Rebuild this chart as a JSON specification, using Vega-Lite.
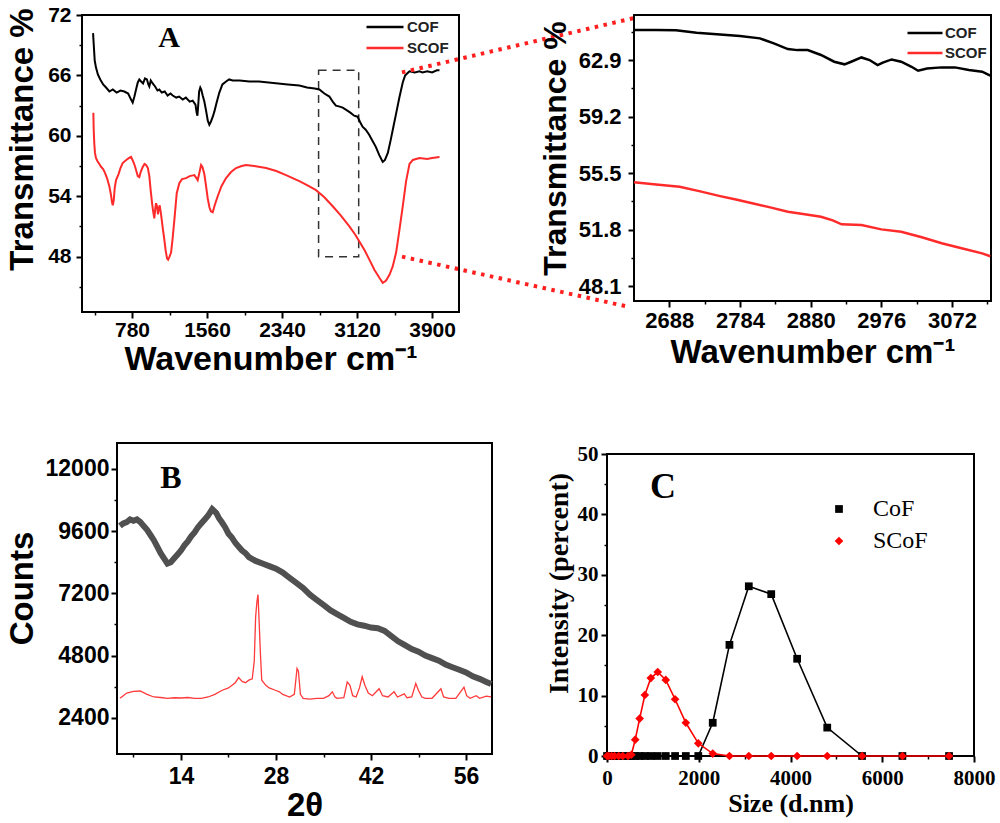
{
  "$schema": "https://vega.github.io/schema/vega-lite/v6.json",
  "background": "white",
  "padding": {"left": 5, "top": 3, "right": 0, "bottom": 0},
  "config": {
    "view": {"stroke": "#000", "strokeWidth": 2},
    "axis": {
      "domain": false, "grid": false,
      "tickColor": "#000", "tickWidth": 2, "tickSize": 6,
      "labelColor": "#000", "titleColor": "#000",
      "labelFlush": false, "labelOverlap": false,
      "labelFont": "Liberation Sans", "titleFont": "Liberation Sans",
      "labelFontWeight": "bold", "titleFontWeight": "bold"
    },
    "legend": {"padding": 0, "labelColor": "#000", "rowPadding": 0}
  },
  "datasets": {
    "ftir": [
      {"s":"COF","wn":375,"t":70.2},{"s":"COF","wn":385,"t":68.6},{"s":"COF","wn":392,"t":67.5},{"s":"COF","wn":405,"t":66.8},
      {"s":"COF","wn":425,"t":66.1},{"s":"COF","wn":450,"t":65.6},{"s":"COF","wn":480,"t":65.1},{"s":"COF","wn":510,"t":64.8},
      {"s":"COF","wn":545,"t":64.4},{"s":"COF","wn":580,"t":64.6},{"s":"COF","wn":620,"t":64.3},{"s":"COF","wn":660,"t":64.5},
      {"s":"COF","wn":700,"t":64.4},{"s":"COF","wn":740,"t":64.2},{"s":"COF","wn":770,"t":63.6},{"s":"COF","wn":787,"t":63.3},
      {"s":"COF","wn":805,"t":63.9},{"s":"COF","wn":822,"t":64.6},{"s":"COF","wn":840,"t":65.3},{"s":"COF","wn":856,"t":65.6},
      {"s":"COF","wn":875,"t":65.4},{"s":"COF","wn":895,"t":65.2},{"s":"COF","wn":915,"t":65.7},{"s":"COF","wn":935,"t":65.6},
      {"s":"COF","wn":950,"t":65.1},{"s":"COF","wn":960,"t":64.9},{"s":"COF","wn":975,"t":65.5},{"s":"COF","wn":995,"t":65.2},
      {"s":"COF","wn":1020,"t":64.9},{"s":"COF","wn":1045,"t":64.5},{"s":"COF","wn":1064,"t":64.6},{"s":"COF","wn":1090,"t":64.3},
      {"s":"COF","wn":1120,"t":64.4},{"s":"COF","wn":1150,"t":64.0},{"s":"COF","wn":1180,"t":64.2},{"s":"COF","wn":1203,"t":64.0},
      {"s":"COF","wn":1240,"t":63.8},{"s":"COF","wn":1270,"t":63.9},{"s":"COF","wn":1307,"t":63.6},{"s":"COF","wn":1340,"t":63.8},
      {"s":"COF","wn":1380,"t":63.4},{"s":"COF","wn":1411,"t":63.5},{"s":"COF","wn":1440,"t":63.1},{"s":"COF","wn":1452,"t":62.3},
      {"s":"COF","wn":1460,"t":62.0},{"s":"COF","wn":1468,"t":63.0},{"s":"COF","wn":1478,"t":64.4},{"s":"COF","wn":1490,"t":64.8},
      {"s":"COF","wn":1500,"t":64.6},{"s":"COF","wn":1515,"t":64.0},{"s":"COF","wn":1532,"t":63.4},{"s":"COF","wn":1550,"t":62.5},
      {"s":"COF","wn":1568,"t":61.5},{"s":"COF","wn":1584,"t":61.1},{"s":"COF","wn":1600,"t":61.4},{"s":"COF","wn":1620,"t":61.9},
      {"s":"COF","wn":1636,"t":62.4},{"s":"COF","wn":1660,"t":63.3},{"s":"COF","wn":1688,"t":64.3},{"s":"COF","wn":1720,"t":65.1},
      {"s":"COF","wn":1758,"t":65.4},{"s":"COF","wn":1790,"t":65.6},{"s":"COF","wn":1827,"t":65.5},{"s":"COF","wn":1900,"t":65.5},
      {"s":"COF","wn":2000,"t":65.4},{"s":"COF","wn":2100,"t":65.4},{"s":"COF","wn":2200,"t":65.3},{"s":"COF","wn":2300,"t":65.2},
      {"s":"COF","wn":2400,"t":65.1},{"s":"COF","wn":2520,"t":65.0},{"s":"COF","wn":2600,"t":64.8},{"s":"COF","wn":2680,"t":64.7},
      {"s":"COF","wn":2728,"t":64.6},{"s":"COF","wn":2780,"t":64.2},{"s":"COF","wn":2832,"t":63.9},{"s":"COF","wn":2867,"t":63.4},
      {"s":"COF","wn":2900,"t":63.0},{"s":"COF","wn":2940,"t":62.9},{"s":"COF","wn":2971,"t":62.8},{"s":"COF","wn":3003,"t":62.6},
      {"s":"COF","wn":3050,"t":62.3},{"s":"COF","wn":3090,"t":62.0},{"s":"COF","wn":3125,"t":61.9},{"s":"COF","wn":3150,"t":61.4},
      {"s":"COF","wn":3177,"t":60.9},{"s":"COF","wn":3210,"t":60.6},{"s":"COF","wn":3246,"t":60.1},{"s":"COF","wn":3280,"t":59.5},
      {"s":"COF","wn":3315,"t":58.9},{"s":"COF","wn":3350,"t":58.1},{"s":"COF","wn":3387,"t":57.4},{"s":"COF","wn":3410,"t":57.6},
      {"s":"COF","wn":3440,"t":58.3},{"s":"COF","wn":3470,"t":59.6},{"s":"COF","wn":3500,"t":61.0},{"s":"COF","wn":3526,"t":62.2},
      {"s":"COF","wn":3560,"t":63.8},{"s":"COF","wn":3595,"t":65.3},{"s":"COF","wn":3620,"t":66.0},{"s":"COF","wn":3665,"t":66.4},
      {"s":"COF","wn":3720,"t":66.3},{"s":"COF","wn":3769,"t":66.4},{"s":"COF","wn":3800,"t":66.3},{"s":"COF","wn":3850,"t":66.4},
      {"s":"COF","wn":3900,"t":66.3},{"s":"COF","wn":3950,"t":66.5},{"s":"COF","wn":3977,"t":66.5},
      {"s":"SCOF","wn":378,"t":62.3},{"s":"SCOF","wn":382,"t":60.5},{"s":"SCOF","wn":388,"t":59.2},{"s":"SCOF","wn":395,"t":58.3},
      {"s":"SCOF","wn":405,"t":57.8},{"s":"SCOF","wn":420,"t":57.5},{"s":"SCOF","wn":440,"t":57.2},{"s":"SCOF","wn":460,"t":56.9},
      {"s":"SCOF","wn":480,"t":56.7},{"s":"SCOF","wn":500,"t":56.3},{"s":"SCOF","wn":520,"t":55.8},{"s":"SCOF","wn":544,"t":55.0},
      {"s":"SCOF","wn":560,"t":54.2},{"s":"SCOF","wn":572,"t":53.4},{"s":"SCOF","wn":580,"t":53.1},{"s":"SCOF","wn":590,"t":53.6},
      {"s":"SCOF","wn":600,"t":54.8},{"s":"SCOF","wn":614,"t":55.6},{"s":"SCOF","wn":640,"t":56.2},{"s":"SCOF","wn":660,"t":56.8},
      {"s":"SCOF","wn":683,"t":57.3},{"s":"SCOF","wn":720,"t":57.6},{"s":"SCOF","wn":750,"t":57.8},{"s":"SCOF","wn":770,"t":57.9},
      {"s":"SCOF","wn":790,"t":57.5},{"s":"SCOF","wn":810,"t":57.0},{"s":"SCOF","wn":822,"t":56.6},{"s":"SCOF","wn":840,"t":56.0},
      {"s":"SCOF","wn":856,"t":55.9},{"s":"SCOF","wn":870,"t":56.4},{"s":"SCOF","wn":891,"t":56.9},{"s":"SCOF","wn":910,"t":57.2},
      {"s":"SCOF","wn":926,"t":57.1},{"s":"SCOF","wn":945,"t":56.8},{"s":"SCOF","wn":960,"t":56.0},{"s":"SCOF","wn":975,"t":54.5},
      {"s":"SCOF","wn":990,"t":53.2},{"s":"SCOF","wn":1000,"t":52.5},{"s":"SCOF","wn":1012,"t":51.8},{"s":"SCOF","wn":1022,"t":52.8},
      {"s":"SCOF","wn":1030,"t":53.3},{"s":"SCOF","wn":1040,"t":53.0},{"s":"SCOF","wn":1050,"t":52.2},{"s":"SCOF","wn":1057,"t":52.7},
      {"s":"SCOF","wn":1068,"t":53.1},{"s":"SCOF","wn":1082,"t":52.2},{"s":"SCOF","wn":1100,"t":50.8},{"s":"SCOF","wn":1116,"t":49.7},
      {"s":"SCOF","wn":1130,"t":48.6},{"s":"SCOF","wn":1145,"t":47.8},{"s":"SCOF","wn":1155,"t":47.7},{"s":"SCOF","wn":1170,"t":48.0},
      {"s":"SCOF","wn":1186,"t":48.4},{"s":"SCOF","wn":1200,"t":49.6},{"s":"SCOF","wn":1220,"t":51.6},{"s":"SCOF","wn":1245,"t":54.3},
      {"s":"SCOF","wn":1272,"t":55.3},{"s":"SCOF","wn":1300,"t":55.7},{"s":"SCOF","wn":1342,"t":55.8},{"s":"SCOF","wn":1380,"t":56.0},
      {"s":"SCOF","wn":1428,"t":56.1},{"s":"SCOF","wn":1450,"t":55.8},{"s":"SCOF","wn":1463,"t":55.6},{"s":"SCOF","wn":1480,"t":56.3},
      {"s":"SCOF","wn":1498,"t":57.1},{"s":"SCOF","wn":1512,"t":56.9},{"s":"SCOF","wn":1532,"t":56.2},{"s":"SCOF","wn":1550,"t":55.0},
      {"s":"SCOF","wn":1567,"t":53.8},{"s":"SCOF","wn":1585,"t":52.9},{"s":"SCOF","wn":1600,"t":52.5},{"s":"SCOF","wn":1619,"t":52.4},
      {"s":"SCOF","wn":1640,"t":53.1},{"s":"SCOF","wn":1671,"t":54.0},{"s":"SCOF","wn":1710,"t":55.0},{"s":"SCOF","wn":1758,"t":55.8},
      {"s":"SCOF","wn":1810,"t":56.4},{"s":"SCOF","wn":1862,"t":56.8},{"s":"SCOF","wn":1920,"t":57.0},{"s":"SCOF","wn":1966,"t":57.1},
      {"s":"SCOF","wn":2050,"t":57.0},{"s":"SCOF","wn":2174,"t":56.8},{"s":"SCOF","wn":2280,"t":56.5},{"s":"SCOF","wn":2382,"t":56.1},
      {"s":"SCOF","wn":2450,"t":55.8},{"s":"SCOF","wn":2520,"t":55.5},{"s":"SCOF","wn":2600,"t":55.1},{"s":"SCOF","wn":2694,"t":54.6},
      {"s":"SCOF","wn":2780,"t":53.9},{"s":"SCOF","wn":2867,"t":53.0},{"s":"SCOF","wn":2950,"t":52.1},{"s":"SCOF","wn":3040,"t":51.0},
      {"s":"SCOF","wn":3100,"t":50.2},{"s":"SCOF","wn":3144,"t":49.5},{"s":"SCOF","wn":3200,"t":48.6},{"s":"SCOF","wn":3248,"t":47.7},
      {"s":"SCOF","wn":3300,"t":46.7},{"s":"SCOF","wn":3352,"t":45.9},{"s":"SCOF","wn":3387,"t":45.4},{"s":"SCOF","wn":3420,"t":45.6},
      {"s":"SCOF","wn":3457,"t":46.2},{"s":"SCOF","wn":3490,"t":47.0},{"s":"SCOF","wn":3526,"t":48.4},{"s":"SCOF","wn":3560,"t":50.6},
      {"s":"SCOF","wn":3595,"t":53.0},{"s":"SCOF","wn":3630,"t":55.5},{"s":"SCOF","wn":3665,"t":57.2},{"s":"SCOF","wn":3700,"t":57.6},
      {"s":"SCOF","wn":3769,"t":57.8},{"s":"SCOF","wn":3850,"t":57.7},{"s":"SCOF","wn":3900,"t":57.8},{"s":"SCOF","wn":3977,"t":57.9}
    ],
    "zoomRegion": [{"wn": 2720, "wn2": 3137, "t": 48.0, "t2": 66.5}],
    "links": [
      {"link": "upper", "wn": 3587, "t": 66.3}, {"link": "upper", "wn": 6000, "t": 71.7},
      {"link": "lower", "wn": 3587, "t": 48.0}, {"link": "lower", "wn": 5950, "t": 43.0}
    ],
    "ftirZoom": [
      {"s":"COF","wn":2640,"t":64.86},{"s":"COF","wn":2670,"t":64.86},{"s":"COF","wn":2697,"t":64.85},{"s":"COF","wn":2725,"t":64.69},
      {"s":"COF","wn":2757,"t":64.58},{"s":"COF","wn":2784,"t":64.47},{"s":"COF","wn":2811,"t":64.32},{"s":"COF","wn":2830,"t":63.99},
      {"s":"COF","wn":2849,"t":63.62},{"s":"COF","wn":2862,"t":63.55},{"s":"COF","wn":2876,"t":63.55},{"s":"COF","wn":2894,"t":63.23},
      {"s":"COF","wn":2912,"t":62.79},{"s":"COF","wn":2926,"t":62.62},{"s":"COF","wn":2935,"t":62.79},{"s":"COF","wn":2949,"t":63.07},
      {"s":"COF","wn":2960,"t":62.9},{"s":"COF","wn":2971,"t":62.57},{"s":"COF","wn":2978,"t":62.73},{"s":"COF","wn":2990,"t":62.94},
      {"s":"COF","wn":3003,"t":62.79},{"s":"COF","wn":3017,"t":62.46},{"s":"COF","wn":3026,"t":62.2},{"s":"COF","wn":3038,"t":62.35},
      {"s":"COF","wn":3058,"t":62.42},{"s":"COF","wn":3076,"t":62.42},{"s":"COF","wn":3095,"t":62.25},{"s":"COF","wn":3113,"t":62.14},
      {"s":"COF","wn":3124,"t":61.88},
      {"s":"SCOF","wn":2640,"t":54.89},{"s":"SCOF","wn":2670,"t":54.75},{"s":"SCOF","wn":2702,"t":54.6},{"s":"SCOF","wn":2730,"t":54.3},
      {"s":"SCOF","wn":2757,"t":53.99},{"s":"SCOF","wn":2780,"t":53.75},{"s":"SCOF","wn":2802,"t":53.51},{"s":"SCOF","wn":2825,"t":53.25},
      {"s":"SCOF","wn":2849,"t":52.97},{"s":"SCOF","wn":2872,"t":52.8},{"s":"SCOF","wn":2894,"t":52.64},{"s":"SCOF","wn":2910,"t":52.4},
      {"s":"SCOF","wn":2922,"t":52.14},{"s":"SCOF","wn":2949,"t":52.09},{"s":"SCOF","wn":2976,"t":51.81},{"s":"SCOF","wn":3003,"t":51.66},
      {"s":"SCOF","wn":3031,"t":51.29},{"s":"SCOF","wn":3058,"t":50.9},{"s":"SCOF","wn":3085,"t":50.57},{"s":"SCOF","wn":3113,"t":50.24},
      {"s":"SCOF","wn":3124,"t":50.05}
    ],
    "xrd": [
      {"s":"COF","tt":5,"c":9800},{"s":"COF","tt":5.5,"c":9900},{"s":"COF","tt":6,"c":9950},{"s":"COF","tt":6.5,"c":10050},
      {"s":"COF","tt":7,"c":10000},{"s":"COF","tt":7.5,"c":10050},{"s":"COF","tt":8,"c":9950},{"s":"COF","tt":8.5,"c":9800},
      {"s":"COF","tt":9,"c":9650},{"s":"COF","tt":9.5,"c":9450},{"s":"COF","tt":10,"c":9250},{"s":"COF","tt":10.5,"c":9000},
      {"s":"COF","tt":11,"c":8750},{"s":"COF","tt":11.5,"c":8550},{"s":"COF","tt":12,"c":8350},{"s":"COF","tt":12.5,"c":8400},
      {"s":"COF","tt":13,"c":8550},{"s":"COF","tt":13.5,"c":8700},{"s":"COF","tt":14,"c":8850},{"s":"COF","tt":14.5,"c":9050},
      {"s":"COF","tt":15,"c":9200},{"s":"COF","tt":15.5,"c":9400},{"s":"COF","tt":16,"c":9550},{"s":"COF","tt":16.5,"c":9750},
      {"s":"COF","tt":17,"c":9900},{"s":"COF","tt":17.5,"c":10050},{"s":"COF","tt":18,"c":10200},{"s":"COF","tt":18.6,"c":10450},
      {"s":"COF","tt":19.2,"c":10300},{"s":"COF","tt":19.6,"c":10100},{"s":"COF","tt":20,"c":9950},{"s":"COF","tt":20.5,"c":9750},
      {"s":"COF","tt":21,"c":9500},{"s":"COF","tt":21.5,"c":9350},{"s":"COF","tt":22,"c":9150},{"s":"COF","tt":22.5,"c":9000},
      {"s":"COF","tt":23,"c":8850},{"s":"COF","tt":23.5,"c":8750},{"s":"COF","tt":24,"c":8600},{"s":"COF","tt":25,"c":8450},
      {"s":"COF","tt":26,"c":8350},{"s":"COF","tt":27,"c":8250},{"s":"COF","tt":28,"c":8150},{"s":"COF","tt":29,"c":8000},
      {"s":"COF","tt":30,"c":7800},{"s":"COF","tt":31,"c":7600},{"s":"COF","tt":32,"c":7400},{"s":"COF","tt":33,"c":7150},
      {"s":"COF","tt":34,"c":6950},{"s":"COF","tt":35,"c":6750},{"s":"COF","tt":36,"c":6550},{"s":"COF","tt":37,"c":6400},
      {"s":"COF","tt":38,"c":6250},{"s":"COF","tt":39,"c":6100},{"s":"COF","tt":40,"c":6000},{"s":"COF","tt":41,"c":5950},
      {"s":"COF","tt":42,"c":5880},{"s":"COF","tt":43,"c":5850},{"s":"COF","tt":44,"c":5750},{"s":"COF","tt":45,"c":5550},
      {"s":"COF","tt":46,"c":5350},{"s":"COF","tt":47,"c":5200},{"s":"COF","tt":48,"c":5050},{"s":"COF","tt":49,"c":4950},
      {"s":"COF","tt":50,"c":4800},{"s":"COF","tt":51,"c":4700},{"s":"COF","tt":52,"c":4600},{"s":"COF","tt":53,"c":4450},
      {"s":"COF","tt":54,"c":4350},{"s":"COF","tt":55,"c":4250},{"s":"COF","tt":56,"c":4150},{"s":"COF","tt":57,"c":4000},
      {"s":"COF","tt":58,"c":3900},{"s":"COF","tt":59,"c":3780},{"s":"COF","tt":59.7,"c":3700},
      {"s":"SCOF","tt":5,"c":3150},{"s":"SCOF","tt":5.5,"c":3250},{"s":"SCOF","tt":6,"c":3350},{"s":"SCOF","tt":7,"c":3420},
      {"s":"SCOF","tt":8,"c":3430},{"s":"SCOF","tt":9,"c":3300},{"s":"SCOF","tt":10,"c":3200},{"s":"SCOF","tt":11,"c":3180},
      {"s":"SCOF","tt":12,"c":3150},{"s":"SCOF","tt":13,"c":3170},{"s":"SCOF","tt":14,"c":3160},{"s":"SCOF","tt":15,"c":3180},
      {"s":"SCOF","tt":16,"c":3150},{"s":"SCOF","tt":17,"c":3150},{"s":"SCOF","tt":18,"c":3200},{"s":"SCOF","tt":19,"c":3300},
      {"s":"SCOF","tt":20,"c":3450},{"s":"SCOF","tt":21,"c":3550},{"s":"SCOF","tt":22,"c":3750},{"s":"SCOF","tt":22.5,"c":3950},
      {"s":"SCOF","tt":23,"c":3800},{"s":"SCOF","tt":23.5,"c":3750},{"s":"SCOF","tt":24,"c":3850},{"s":"SCOF","tt":24.5,"c":3900},
      {"s":"SCOF","tt":24.8,"c":4600},{"s":"SCOF","tt":25,"c":6300},{"s":"SCOF","tt":25.2,"c":6900},{"s":"SCOF","tt":25.35,"c":7150},
      {"s":"SCOF","tt":25.5,"c":6200},{"s":"SCOF","tt":25.7,"c":4900},{"s":"SCOF","tt":25.9,"c":3850},{"s":"SCOF","tt":26.5,"c":3650},
      {"s":"SCOF","tt":27,"c":3550},{"s":"SCOF","tt":28,"c":3450},{"s":"SCOF","tt":28.5,"c":3400},{"s":"SCOF","tt":29,"c":3300},
      {"s":"SCOF","tt":30,"c":3200},{"s":"SCOF","tt":30.7,"c":3300},{"s":"SCOF","tt":31.1,"c":4300},{"s":"SCOF","tt":31.3,"c":4200},
      {"s":"SCOF","tt":31.6,"c":3300},{"s":"SCOF","tt":32,"c":3150},{"s":"SCOF","tt":33,"c":3120},{"s":"SCOF","tt":34,"c":3150},
      {"s":"SCOF","tt":35,"c":3150},{"s":"SCOF","tt":35.8,"c":3250},{"s":"SCOF","tt":36.3,"c":3400},{"s":"SCOF","tt":36.7,"c":3200},
      {"s":"SCOF","tt":37,"c":3150},{"s":"SCOF","tt":38,"c":3170},{"s":"SCOF","tt":38.5,"c":3780},{"s":"SCOF","tt":38.9,"c":3650},
      {"s":"SCOF","tt":39.3,"c":3250},{"s":"SCOF","tt":39.8,"c":3200},{"s":"SCOF","tt":40.3,"c":3550},{"s":"SCOF","tt":40.7,"c":3980},
      {"s":"SCOF","tt":41.1,"c":3650},{"s":"SCOF","tt":41.6,"c":3350},{"s":"SCOF","tt":42.2,"c":3250},{"s":"SCOF","tt":43.2,"c":3520},
      {"s":"SCOF","tt":43.7,"c":3250},{"s":"SCOF","tt":44.5,"c":3200},{"s":"SCOF","tt":45.4,"c":3400},{"s":"SCOF","tt":45.9,"c":3200},
      {"s":"SCOF","tt":46.9,"c":3320},{"s":"SCOF","tt":47.3,"c":3170},{"s":"SCOF","tt":48,"c":3200},{"s":"SCOF","tt":48.6,"c":3720},
      {"s":"SCOF","tt":49,"c":3450},{"s":"SCOF","tt":49.5,"c":3200},{"s":"SCOF","tt":50,"c":3150},{"s":"SCOF","tt":51,"c":3150},
      {"s":"SCOF","tt":52.3,"c":3520},{"s":"SCOF","tt":52.7,"c":3200},{"s":"SCOF","tt":53.5,"c":3150},{"s":"SCOF","tt":54.5,"c":3150},
      {"s":"SCOF","tt":55.7,"c":3580},{"s":"SCOF","tt":56.1,"c":3250},{"s":"SCOF","tt":56.6,"c":3150},{"s":"SCOF","tt":57.5,"c":3250},
      {"s":"SCOF","tt":58,"c":3150},{"s":"SCOF","tt":59,"c":3230},{"s":"SCOF","tt":59.7,"c":3200}
    ],
    "dls": [
      {"s":"CoF","d":0.4,"i":0},{"s":"CoF","d":40,"i":0},{"s":"CoF","d":100,"i":0},{"s":"CoF","d":164,"i":0},
      {"s":"CoF","d":255,"i":0},{"s":"CoF","d":342,"i":0},{"s":"CoF","d":459,"i":0},{"s":"CoF","d":531,"i":0},
      {"s":"CoF","d":615,"i":0},{"s":"CoF","d":712,"i":0},{"s":"CoF","d":825,"i":0},{"s":"CoF","d":955,"i":0},
      {"s":"CoF","d":1106,"i":0},{"s":"CoF","d":1281,"i":0},{"s":"CoF","d":1484,"i":0},{"s":"CoF","d":1718,"i":0},
      {"s":"CoF","d":1990,"i":0},{"s":"CoF","d":2305,"i":5.5},{"s":"CoF","d":2669,"i":18.4},{"s":"CoF","d":3091,"i":28.1},
      {"s":"CoF","d":3580,"i":26.8},{"s":"CoF","d":4145,"i":16.1},{"s":"CoF","d":4801,"i":4.7},{"s":"CoF","d":5560,"i":0},
      {"s":"CoF","d":6439,"i":0},{"s":"CoF","d":7456,"i":0},
      {"s":"SCoF","d":0.4,"i":0},{"s":"SCoF","d":40,"i":0},{"s":"SCoF","d":100,"i":0},{"s":"SCoF","d":164,"i":0},
      {"s":"SCoF","d":255,"i":0},{"s":"SCoF","d":342,"i":0},{"s":"SCoF","d":459,"i":0},{"s":"SCoF","d":531,"i":0.2},
      {"s":"SCoF","d":615,"i":2.7},{"s":"SCoF","d":712,"i":6.2},{"s":"SCoF","d":825,"i":10.1},{"s":"SCoF","d":955,"i":12.9},
      {"s":"SCoF","d":1106,"i":13.9},{"s":"SCoF","d":1281,"i":12.6},{"s":"SCoF","d":1484,"i":9.4},{"s":"SCoF","d":1718,"i":5.5},
      {"s":"SCoF","d":1990,"i":2.1},{"s":"SCoF","d":2305,"i":0.4},{"s":"SCoF","d":2669,"i":0},{"s":"SCoF","d":3091,"i":0},
      {"s":"SCoF","d":3580,"i":0},{"s":"SCoF","d":4145,"i":0},{"s":"SCoF","d":4801,"i":0},{"s":"SCoF","d":5560,"i":0},
      {"s":"SCoF","d":6439,"i":0},{"s":"SCoF","d":7456,"i":0}
    ]
  },
  "resolve": {"scale": {"color": "independent", "shape": "independent", "size": "independent"},
              "legend": {"color": "independent"}},
  "vconcat": [
    {
      "resolve": {"scale": {"color": "independent"}, "legend": {"color": "independent"}},
      "hconcat": [
        {
          "width": 377, "height": 297,
          "resolve": {"axis": {"x": "independent", "y": "independent"}},
          "layer": [
            {"data": {"name": "zoomRegion"},
             "mark": {"type": "rect", "fill": "transparent", "stroke": "#333", "strokeWidth": 1.5, "strokeDash": [8, 6]},
             "encoding": {
               "x": {"field": "wn", "type": "quantitative", "scale": {"domain": [260, 4180], "nice": false, "zero": false}, "axis": null},
               "x2": {"field": "wn2"},
               "y": {"field": "t", "type": "quantitative", "scale": {"domain": [42.5, 72], "nice": false, "zero": false}, "axis": null},
               "y2": {"field": "t2"}}},
            {"data": {"name": "ftir"},
             "mark": {"type": "line", "strokeWidth": 2},
             "encoding": {
               "x": {"field": "wn", "type": "quantitative", "scale": {"domain": [260, 4180], "nice": false, "zero": false},
                     "axis": {"orient": "bottom", "values": [780, 1560, 2340, 3120, 3900], "format": "d", "title": "Wavenumber cm⁻¹",
                              "labelFontSize": 21, "titleFontSize": 34, "labelPadding": 1, "titlePadding": 2}},
               "y": {"field": "t", "type": "quantitative", "scale": {"domain": [42.5, 72], "nice": false, "zero": false},
                     "axis": {"orient": "left", "values": [48, 54, 60, 66, 72], "format": "d", "title": "Transmittance %",
                              "labelFontSize": 21, "titleFontSize": 33, "labelPadding": 5, "titlePadding": 8, "titleY": 124}},
               "color": {"field": "s", "type": "nominal",
                 "scale": {"domain": ["COF", "SCOF"], "range": ["#000000", "#ff2b2b"]},
                 "legend": {"orient": "none", "legendX": 283, "legendY": 1.5, "title": null, "symbolType": "stroke",
                            "symbolSize": 1369, "symbolStrokeWidth": 2.5, "clipHeight": 21, "labelFont": "Liberation Sans", "labelFontWeight": "bold",
                            "labelFontSize": 15, "labelColor": "#222", "labelOffset": 2}}}},
            {"data": {"name": "links"},
             "mark": {"type": "line", "color": "#ff1f1f", "strokeWidth": 4, "strokeDash": [3.5, 5.5], "clip": false},
             "encoding": {
               "x": {"field": "wn", "type": "quantitative", "scale": {"domain": [260, 4180], "nice": false, "zero": false}, "axis": null},
               "y": {"field": "t", "type": "quantitative", "scale": {"domain": [42.5, 72], "nice": false, "zero": false}, "axis": null},
               "detail": {"field": "link"}}},
            {"data": {"values": [{"panel": "A"}]},
             "mark": {"type": "text", "font": "Liberation Serif", "fontWeight": "bold", "fontSize": 30, "color": "#000"},
             "encoding": {"x": {"datum": 1165, "type": "quantitative", "axis": null}, "y": {"datum": 69.7, "type": "quantitative", "axis": null},
                          "text": {"field": "panel"}}},
            {"data": {"values": [{}]},
             "mark": {"type": "point", "opacity": 0},
             "encoding": {
               "x": {"datum": 1000, "type": "quantitative",
                     "axis": {"orient": "bottom", "values": [390, 1170, 1950, 2730, 3510], "labels": false, "tickSize": 3, "tickWidth": 1.5, "title": null}},
               "y": {"datum": 50, "type": "quantitative",
                     "axis": {"orient": "left", "values": [45, 51, 57, 63, 69], "labels": false, "tickSize": 3, "tickWidth": 1.5, "title": null}}}}
          ]
        },
        {
          "width": 357, "height": 286,
          "resolve": {"axis": {"x": "independent", "y": "independent"}},
          "layer": [
            {"data": {"name": "ftirZoom"},
             "mark": {"type": "line", "strokeWidth": 2.5},
             "encoding": {
               "x": {"field": "wn", "type": "quantitative", "scale": {"domain": [2640, 3125], "nice": false, "zero": false},
                     "axis": {"orient": "bottom", "values": [2688, 2784, 2880, 2976, 3072], "format": "d", "title": "Wavenumber cm⁻¹",
                              "labelFontSize": 22, "titleFontSize": 33, "labelPadding": 3, "titlePadding": 5}},
               "y": {"field": "t", "type": "quantitative", "scale": {"domain": [47.12, 65.85], "nice": false, "zero": false},
                     "axis": {"orient": "left", "values": [48.1, 51.8, 55.5, 59.2, 62.9], "format": ".1f", "title": "Transmittance %",
                              "labelFontSize": 22, "titleFontSize": 32, "labelPadding": 7, "titlePadding": 6, "titleY": 133}},
               "color": {"field": "s", "type": "nominal",
                 "scale": {"domain": ["COF", "SCOF"], "range": ["#000000", "#ff2b2b"]},
                 "legend": {"orient": "none", "legendX": 272, "legendY": 8, "title": null, "symbolType": "stroke",
                            "symbolSize": 1225, "symbolStrokeWidth": 2.5, "clipHeight": 20, "labelFont": "Liberation Sans", "labelFontWeight": "bold",
                            "labelFontSize": 15, "labelColor": "#222", "labelOffset": 1}}}},
            {"data": {"values": [{}]},
             "mark": {"type": "point", "opacity": 0},
             "encoding": {
               "x": {"datum": 2800, "type": "quantitative",
                     "axis": {"orient": "bottom", "values": [2736, 2832, 2928, 3024, 3120], "labels": false, "tickSize": 3, "tickWidth": 1.5, "title": null}},
               "y": {"datum": 55, "type": "quantitative",
                     "axis": {"orient": "left", "values": [49.95, 53.65, 57.35, 61.05, 64.75], "labels": false, "tickSize": 3, "tickWidth": 1.5, "title": null}}}}
          ]
        }
      ],
      "spacing": 175,
      "bounds": "flush"
    },
    {
      "resolve": {"scale": {"color": "independent", "shape": "independent", "size": "independent"},
                  "legend": {"color": "independent"}},
      "hconcat": [
        {
          "hconcat": [
            {
              "width": 1, "height": 1,
              "data": {"values": [{}]},
              "mark": {"type": "point", "opacity": 0},
              "view": {"stroke": null}
            },
            {
              "width": 375, "height": 311,
              "resolve": {"axis": {"x": "independent", "y": "independent"}},
              "layer": [
                {"data": {"name": "xrd"},
                 "transform": [{"filter": "datum.s === 'COF'"}],
                 "mark": {"type": "line", "strokeWidth": 6},
                 "encoding": {
                   "x": {"field": "tt", "type": "quantitative", "scale": {"domain": [4.57, 59.83], "nice": false, "zero": false},
                         "axis": {"orient": "bottom", "values": [14, 28, 42, 56], "format": "d", "title": "2θ",
                                  "labelFontSize": 23, "titleFontSize": 33, "labelPadding": 5, "titlePadding": 1}},
                   "y": {"field": "c", "type": "quantitative", "scale": {"domain": [1000, 13000], "nice": false, "zero": false},
                         "axis": {"orient": "left", "values": [2400, 4800, 7200, 9600, 12000], "format": "d", "title": "Counts",
                                  "labelFontSize": 23, "titleFontSize": 33, "labelPadding": 2, "titlePadding": 6, "titleY": 145}},
                   "color": {"field": "s", "type": "nominal",
                     "scale": {"domain": ["COF", "SCOF"], "range": ["#505050", "#ff3a3a"]}, "legend": null}}},
                {"data": {"name": "xrd"},
                 "transform": [{"filter": "datum.s === 'SCOF'"}],
                 "mark": {"type": "line", "strokeWidth": 1.3},
                 "encoding": {
                   "x": {"field": "tt", "type": "quantitative", "scale": {"domain": [4.57, 59.83], "nice": false, "zero": false}, "axis": null},
                   "y": {"field": "c", "type": "quantitative", "scale": {"domain": [1000, 13000], "nice": false, "zero": false}, "axis": null},
                   "color": {"field": "s", "type": "nominal",
                     "scale": {"domain": ["COF", "SCOF"], "range": ["#505050", "#ff3a3a"]},
                     "legend": {"orient": "none", "legendX": 255, "legendY": 21.5, "title": null, "symbolType": "stroke",
                                "symbolSize": 1156, "symbolStrokeWidth": 1.6, "clipHeight": 23, "labelFont": "Liberation Sans", "labelFontWeight": "bold",
                                "labelFontSize": 17, "labelColor": "#333", "labelOffset": 4}}}},
                {"data": {"values": [{"panel": "B"}]},
                 "mark": {"type": "text", "font": "Liberation Serif", "fontWeight": "bold", "fontSize": 32, "color": "#000"},
                 "encoding": {"x": {"datum": 12.5, "type": "quantitative", "axis": null}, "y": {"datum": 11650, "type": "quantitative", "axis": null},
                              "text": {"field": "panel"}}},
                {"data": {"values": [{}]},
                 "mark": {"type": "point", "opacity": 0},
                 "encoding": {
                   "x": {"datum": 20, "type": "quantitative",
                         "axis": {"orient": "bottom", "values": [7, 21, 35, 49], "labels": false, "tickSize": 3, "tickWidth": 1.5, "title": null}},
                   "y": {"datum": 5000, "type": "quantitative",
                         "axis": {"orient": "left", "values": [3600, 6000, 8400, 10800], "labels": false, "tickSize": 3, "tickWidth": 1.5, "title": null}}}}
              ]
            }
          ],
          "spacing": 34,
          "bounds": "flush"
        },
        {
          "resolve": {"scale": {"color": "independent", "shape": "independent", "size": "independent"}, "legend": {"color": "independent"}},
          "vconcat": [
            {
              "width": 367, "height": 1,
              "data": {"values": [{}]},
              "mark": {"type": "point", "opacity": 0},
              "view": {"stroke": null}
            },
            {
              "width": 367, "height": 302,
              "resolve": {"axis": {"x": "independent", "y": "independent"}},
              "layer": [
                {"data": {"name": "dls"},
                 "mark": {"type": "line", "strokeWidth": 1.6},
                 "encoding": {
                   "x": {"field": "d", "type": "quantitative", "scale": {"domain": [0, 8000], "nice": false, "zero": false},
                         "axis": {"orient": "bottom", "values": [0, 2000, 4000, 6000, 8000], "format": "d", "title": "Size (d.nm)",
                                  "labelFont": "Liberation Serif", "titleFont": "Liberation Serif",
                                  "labelFontSize": 21, "titleFontSize": 26, "labelPadding": 5, "titlePadding": 2}},
                   "y": {"field": "i", "type": "quantitative", "scale": {"domain": [0, 50], "nice": false, "zero": false},
                         "axis": {"orient": "left", "values": [0, 10, 20, 30, 40, 50], "format": "d", "title": "Intensity (percent)",
                                  "labelFont": "Liberation Serif", "titleFont": "Liberation Serif",
                                  "labelFontSize": 21, "titleFontSize": 28, "labelPadding": 3, "titlePadding": 4, "titleY": 129}},
                   "color": {"field": "s", "type": "nominal",
                     "scale": {"domain": ["CoF", "SCoF"], "range": ["#000000", "#ff0000"]},
                     "legend": {"orient": "none", "legendX": 220, "legendY": 43, "title": null,
                                "symbolSize": 900, "symbolStrokeWidth": 0, "rowPadding": 8,
                                "labelFont": "Liberation Serif", "labelFontSize": 24, "labelColor": "#000", "labelOffset": 22}}}},
                {"data": {"name": "dls"},
                 "mark": {"type": "point", "filled": true, "opacity": 1},
                 "encoding": {
                   "x": {"field": "d", "type": "quantitative", "scale": {"domain": [0, 8000], "nice": false, "zero": false}, "axis": null},
                   "y": {"field": "i", "type": "quantitative", "scale": {"domain": [0, 50], "nice": false, "zero": false}, "axis": null},
                   "color": {"field": "s", "type": "nominal", "legend": null},
                   "shape": {"field": "s", "type": "nominal", "scale": {"domain": ["CoF", "SCoF"], "range": ["square", "diamond"]}, "legend": null},
                   "size": {"field": "s", "type": "nominal", "scale": {"domain": ["CoF", "SCoF"], "range": [60, 75]}, "legend": null}}},
                {"data": {"values": [{"panel": "C"}]},
                 "mark": {"type": "text", "font": "Liberation Serif", "fontWeight": "bold", "fontSize": 36, "color": "#000"},
                 "encoding": {"x": {"datum": 1220, "type": "quantitative", "axis": null}, "y": {"datum": 44.5, "type": "quantitative", "axis": null},
                              "text": {"field": "panel"}}},
                {"data": {"values": [{}]},
                 "mark": {"type": "point", "opacity": 0},
                 "encoding": {
                   "x": {"datum": 3000, "type": "quantitative",
                         "axis": {"orient": "bottom", "values": [1000, 3000, 5000, 7000], "labels": false, "tickSize": 3, "tickWidth": 1.5, "title": null}},
                   "y": {"datum": 25, "type": "quantitative",
                         "axis": {"orient": "left", "values": [5, 15, 25, 35, 45], "labels": false, "tickSize": 3, "tickWidth": 1.5, "title": null}}}}
              ]
            }
          ],
          "spacing": 10,
          "bounds": "flush"
        }
      ],
      "spacing": 39
    }
  ],
  "spacing": 63
}
